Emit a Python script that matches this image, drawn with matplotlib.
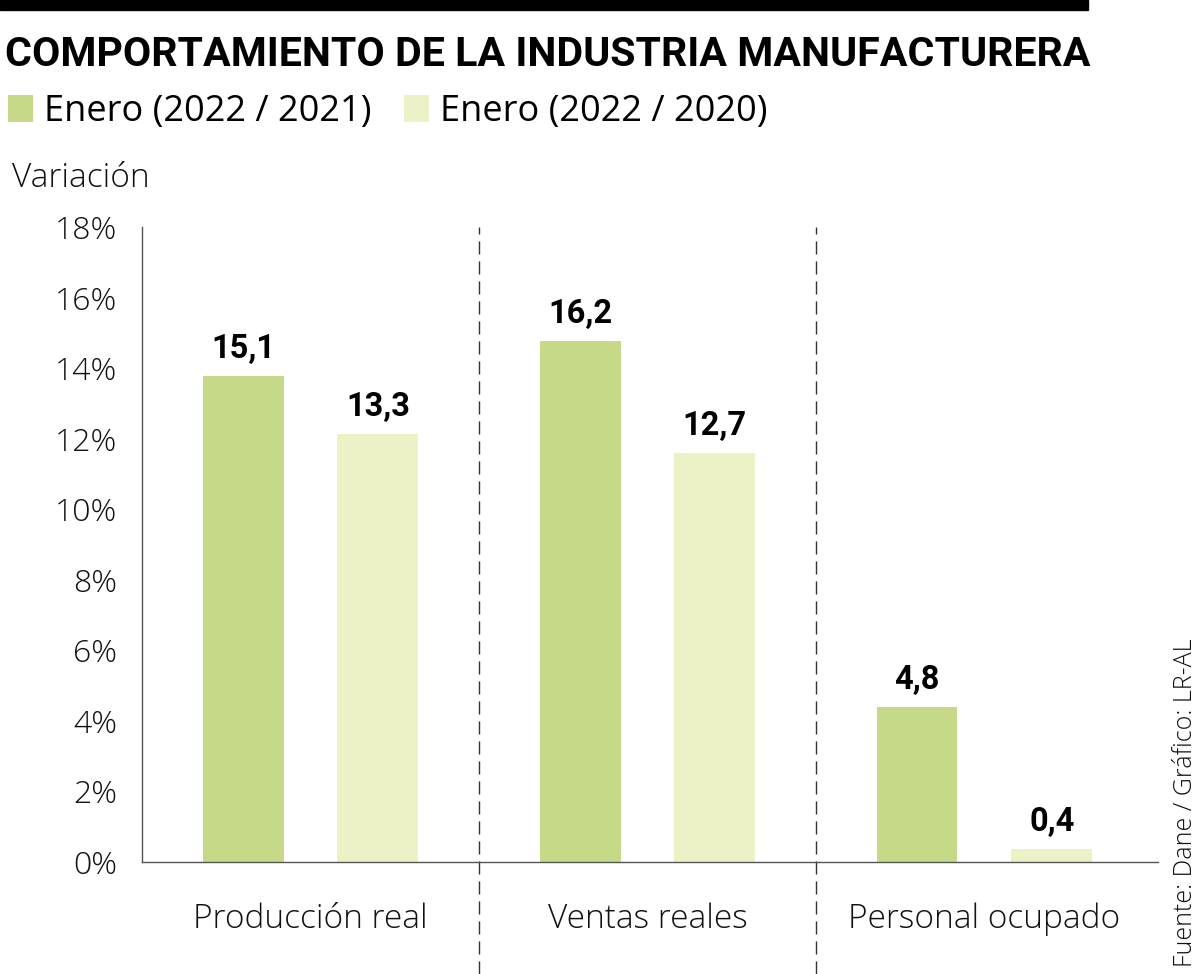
import matplotlib
matplotlib.use('Agg')
import matplotlib.pyplot as plt
from matplotlib import font_manager
from matplotlib.patches import Rectangle
import numpy as np

# data
categories = ['Producción real', 'Ventas reales', 'Personal ocupado']
series_names = ['Enero (2022 / 2021)', 'Enero (2022 / 2020)']
# bar heights as drawn (the printed labels do not match the drawn scale)
drawn_2021 = [13.78, 14.77, 4.38]
drawn_2020 = [12.14, 11.58, 0.37]
labels_2021 = ['15,1', '16,2', '4,8']
labels_2020 = ['13,3', '12,7', '0,4']
yticks = [0, 2, 4, 6, 8, 10, 12, 14, 16, 18]
ytick_labels = ['0%', '2%', '4%', '6%', '8%', '10%', '12%', '14%', '16%', '18%']

DARK = '#c6d988'
LIGHT = '#ecf1c6'
W, H = 1200, 974


def has_font(name):
    try:
        font_manager.findfont(font_manager.FontProperties(family=name),
                              fallback_to_default=False)
        return True
    except ValueError:
        return False


narrow = has_font('Liberation Sans Narrow')
bold_family = ['Liberation Sans Narrow', 'Open Sans'] if narrow else ['Roboto', 'Open Sans']

fig = plt.figure(figsize=(W / 100, H / 100), dpi=100)
ax = fig.add_axes([142 / W, 1 - 862 / H, (1158 - 142) / W, (862 - 227) / H])

x = np.arange(len(categories))
bw = 0.24
ax.bar(x - 0.2, drawn_2021, bw, color=DARK, label=series_names[0], zorder=2)
ax.bar(x + 0.2, drawn_2020, bw, color=LIGHT, label=series_names[1], zorder=2)

val_size = 25 if narrow else 23.5
for xi, h, t in zip(x - 0.2, drawn_2021, labels_2021):
    ax.annotate(t, (xi, h), xytext=(0, 8), textcoords='offset points', ha='center',
                va='bottom', fontsize=val_size, fontweight='bold', family=bold_family)
for xi, h, t in zip(x + 0.2, drawn_2020, labels_2020):
    ax.annotate(t, (xi, h), xytext=(0, 8), textcoords='offset points', ha='center',
                va='bottom', fontsize=val_size, fontweight='bold', family=bold_family)

ax.set_xlim(-0.5, 2.515)
ax.set_ylim(0, 18)
ax.set_yticks(yticks)
ax.set_yticklabels(ytick_labels, family='Open Sans', fontweight='light', fontsize=23)
ax.set_xticks(x)
ax.set_xticklabels(categories, family='Open Sans', fontweight='light', fontsize=24)
ax.tick_params(axis='y', length=0, pad=18, colors='#111111')
ax.tick_params(axis='x', length=0, pad=29, colors='#111111')
for s in ['top', 'right']:
    ax.spines[s].set_visible(False)
for s in ['left', 'bottom']:
    ax.spines[s].set_color('#555555')
    ax.spines[s].set_linewidth(1.0)

for xs in [0.5, 1.5]:
    ax.axvline(xs, ymin=-0.177, ymax=1.0, color='#333333', lw=1.0,
               linestyle=(0, (9.4, 5)), clip_on=False, zorder=1)

# top rule
fig.add_artist(Rectangle((0, 1 - 10 / H), 1088 / W, 10 / H, transform=fig.transFigure,
                         color='black'))

# title, fitted to the width of the rule
title = fig.text(5 / W, 1 - 66 / H, 'COMPORTAMIENTO DE LA INDUSTRIA MANUFACTURERA',
                 ha='left', va='baseline', fontsize=30, fontweight='bold',
                 family=bold_family)
fig.canvas.draw()
tw = title.get_window_extent().width
title.set_fontsize(30 * 1083 / tw)

leg = ax.legend(loc='upper left', bbox_to_anchor=(8 / W, 1 - 94 / H),
                bbox_transform=fig.transFigure, ncol=2, frameon=False,
                prop={'family': 'Open Sans', 'size': 26},
                handlelength=0.7, handleheight=0.78, handletextpad=0.3,
                columnspacing=0.9, borderpad=0, borderaxespad=0)

fig.text(12 / W, 1 - 178 / H, 'Variación', ha='left', va='center',
         fontsize=24, fontweight='light', family='Open Sans', color='#111111')

fig.text(1185 / W, 1 - 803 / H, 'Fuente: Dane / Gráfico: LR-AL', rotation=90,
         ha='center', va='center', fontsize=18, fontweight='light',
         family='Open Sans', color='#111111')

fig.savefig('out.png', dpi=100)
